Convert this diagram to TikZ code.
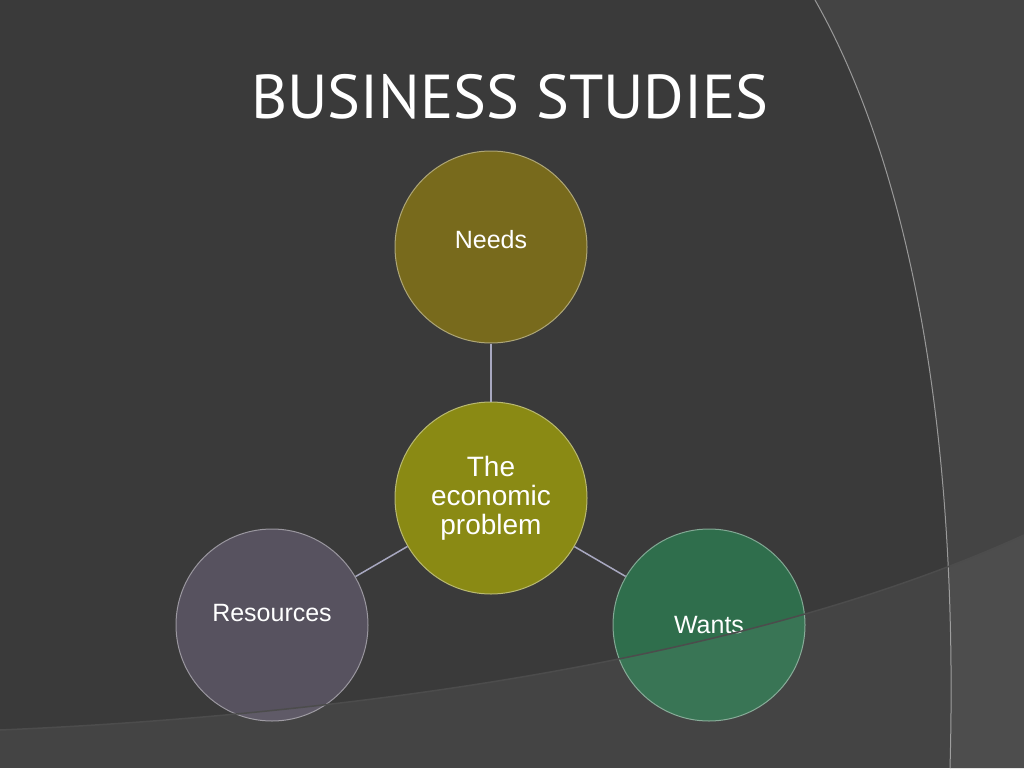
\documentclass[tikz,border=0pt]{standalone}
\usepackage{fontspec}
\setmainfont{Liberation Sans}
\newfontfamily\titlefont{PT Sans}
\begin{document}
\begin{tikzpicture}[x=1pt,y=-1pt,
  bubble/.style={circle,minimum size=192pt,inner sep=0pt,draw=#1!60!white,line width=1pt,text=white,font=\fontsize{25}{29}\selectfont,align=center},
  link/.style={draw=linkc,line width=1.5pt}]
\definecolor{bg}{HTML}{3A3A3A}
\definecolor{bgl}{HTML}{444444}
\definecolor{needc}{HTML}{786A1C}
\definecolor{centc}{HTML}{8A8A14}
\definecolor{resc}{HTML}{57525F}
\definecolor{wantc}{HTML}{2F6E4C}
\definecolor{linkc}{HTML}{A8A8C0}
\useasboundingbox (0,0) rectangle (1024,768);
\fill[bg] (0,0) rectangle (1024,768);
\fill[bgl] (815,0) .. controls (900,150) and (960,400) .. (950,768) -- (1024,768) -- (1024,0) -- cycle;
\draw[black!40,line width=1pt] (815,0) .. controls (900,150) and (960,400) .. (950,768);
\node[bubble=needc,fill=needc] (needs) at (491,247) {\raisebox{16pt}{Needs}};
\node[bubble=centc,fill=centc] (econ) at (491,498) {\fontsize{28}{32}\selectfont The\\\fontsize{28}{32}\selectfont economic\\\fontsize{28}{32}\selectfont problem};
\node[bubble=resc,fill=resc] (res) at (272,625) {\raisebox{24pt}{Resources}};
\node[bubble=wantc,fill=wantc] (wants) at (709,625) {Wants};
\draw[link] (needs) -- (econ);
\draw[link] (econ) -- (res);
\draw[link] (econ) -- (wants);
\fill[white,opacity=0.05] (0,730) .. controls (350,715) and (750,660) .. (1024,535) -- (1024,768) -- (0,768) -- cycle;
\draw[black!70,line width=1.5pt] (0,730) .. controls (350,715) and (750,660) .. (1024,535);
\node[text=white,font=\titlefont\fontsize{62}{70}\selectfont] (title) at (510,97) {BUSINESS STUDIES};
\end{tikzpicture}
\end{document}
